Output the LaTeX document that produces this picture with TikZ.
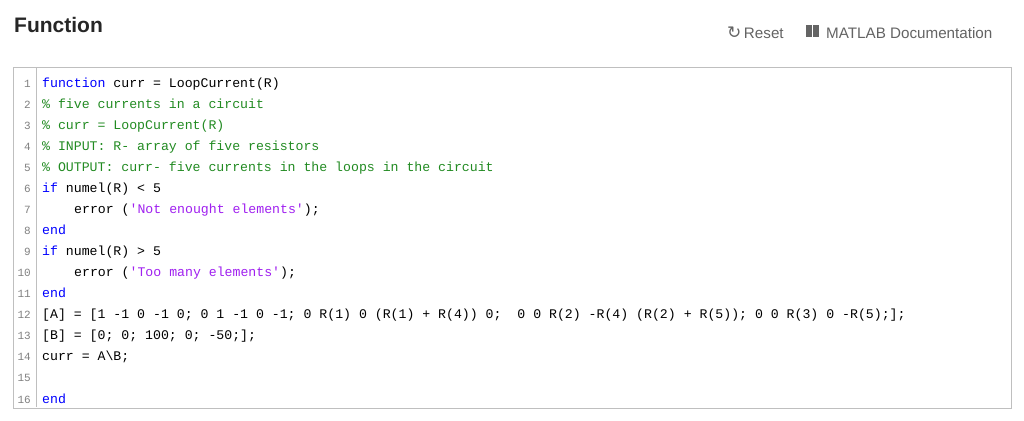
\documentclass[tikz,border=0pt]{standalone}
\usepackage{fontspec}
\setmainfont{Liberation Sans}
\newfontfamily\code[Ligatures={},Scale=1]{Liberation Mono}
\newfontfamily\dv{DejaVu Sans}
\definecolor{kw}{RGB}{0,0,255}
\definecolor{cm}{RGB}{34,139,34}
\definecolor{st}{RGB}{160,32,240}
\definecolor{ln}{RGB}{128,128,128}
\definecolor{hd}{RGB}{100,100,100}
\begin{document}
\begin{tikzpicture}[x=1pt,y=-1pt,
  cl/.style={anchor=base west,inner sep=0pt,font=\code\fontsize{13.2}{14}\selectfont},
  nl/.style={anchor=base east,inner sep=0pt,text=ln,font=\code\fontsize{11}{12}\selectfont}]
\useasboundingbox[fill=white] (0,0) rectangle (1024,420);
\node[anchor=base west,inner sep=0pt,font=\bfseries\fontsize{21}{24}\selectfont,text=black!85] (title) at (14,33) {Function};
\node[anchor=base west,inner sep=0pt,text=hd,font=\fontsize{15.2}{16}\selectfont] (reset) at (727,39) {{\dv\fontsize{17}{18}\selectfont ↻}\,Reset};
\fill[hd] (806,25) rectangle (819,37);
\draw[white,line width=0.8pt] (812.5,25) -- (812.5,37);
\node[anchor=base west,inner sep=0pt,text=hd,font=\fontsize{15.2}{16}\selectfont] (doc) at (826,38) {MATLAB Documentation};
\draw[black!25,line width=1pt] (13,67) rectangle (1011,408);
\draw[black!25] (36,68) -- (36,407);
\foreach \i in {1,...,16}{
  \node[nl] (n\i) at (31,{87+21.07*(\i-1)}) {\i};
}
\def\Y#1{{87+21.07*(#1-1)}}
\node[cl] (l1) at (42,\Y{1}) {\textcolor{kw}{function} curr = LoopCurrent(R)};
\node[cl,text=cm] (l2) at (42,\Y{2}) {\% five currents in a circuit};
\node[cl,text=cm] (l3) at (42,\Y{3}) {\% curr = LoopCurrent(R)};
\node[cl,text=cm] (l4) at (42,\Y{4}) {\% INPUT: R- array of five resistors};
\node[cl,text=cm] (l5) at (42,\Y{5}) {\% OUTPUT: curr- five currents in the loops in the circuit};
\node[cl] (l6) at (42,\Y{6}) {\textcolor{kw}{if} numel(R) < 5};
\node[cl] (l7) at (74,\Y{7}) {error (\textcolor{st}{'Not enought elements'});};
\node[cl,text=kw] (l8) at (42,\Y{8}) {end};
\node[cl] (l9) at (42,\Y{9}) {\textcolor{kw}{if} numel(R) > 5};
\node[cl] (l10) at (74,\Y{10}) {error (\textcolor{st}{'Too many elements'});};
\node[cl,text=kw] (l11) at (42,\Y{11}) {end};
\node[cl] (l12) at (42,\Y{12}) {[A] = [1 -1 0 -1 0; 0 1 -1 0 -1; 0 R(1) 0 (R(1) + R(4)) 0;\ \ 0 0 R(2) -R(4) (R(2) + R(5)); 0 0 R(3) 0 -R(5);];};
\node[cl] (l13) at (42,\Y{13}) {[B] = [0; 0; 100; 0; -50;];};
\node[cl] (l14) at (42,\Y{14}) {curr = A\textbackslash B;};
\node[cl,text=kw] (l16) at (42,\Y{16}) {end};
\end{tikzpicture}
\end{document}
